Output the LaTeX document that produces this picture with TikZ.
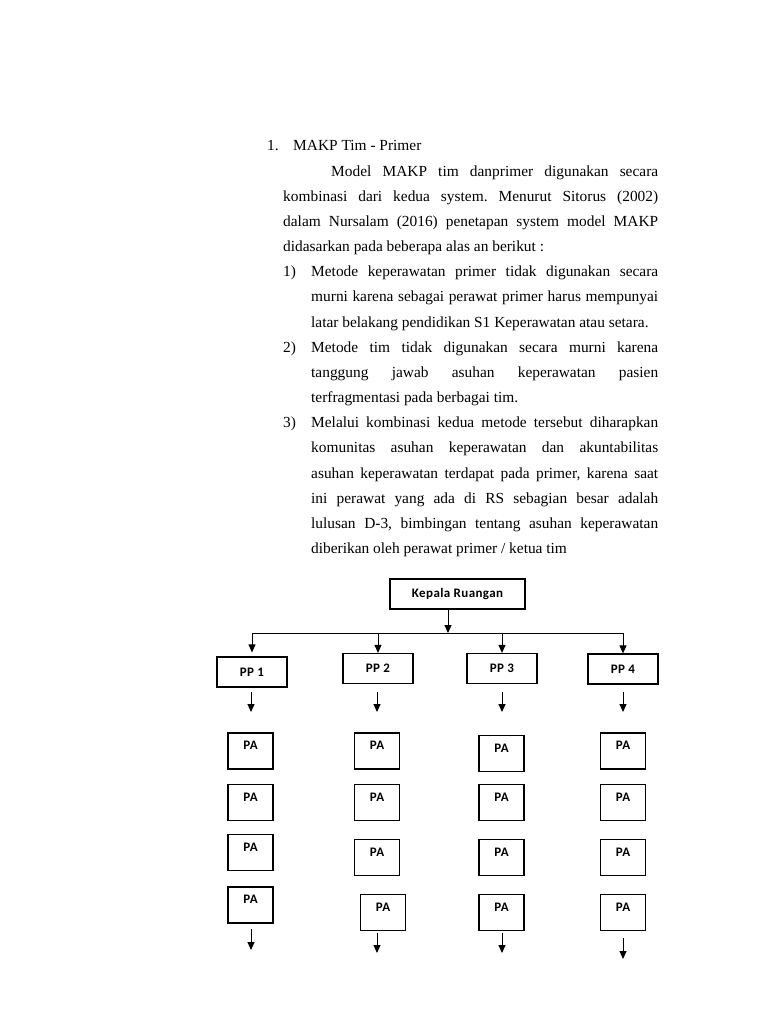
\documentclass[tikz,border=0pt]{standalone}
\usepackage{fontspec}
\setmainfont{Liberation Serif}
\newfontfamily\diagfont[LetterSpace=3]{Carlito}
\usetikzlibrary{arrows.meta}
\frenchspacing
\begin{document}
\begin{tikzpicture}[x=1pt,y=-1pt,
  txt/.style={anchor=base west, inner sep=0pt, font=\fontsize{15.4}{18}\selectfont},
  box/.style={draw=black, line width=1.2pt, inner sep=0pt, font=\diagfont\bfseries\fontsize{13}{15}\selectfont},
  ppbox/.style={box, minimum width=70pt, minimum height=30pt},
  pabox/.style={box, minimum width=45pt, minimum height=36pt},
  pal/.style={anchor=center, yshift=-13pt, inner sep=0pt, font=\diagfont\bfseries\fontsize{13}{15}\selectfont},
  arr/.style={line width=1pt, -{Triangle[width=7pt,length=8pt]}},
  ln/.style={line width=1pt}]
\fill[white] (0,0) rectangle (768,1024);
\useasboundingbox (0,0) rectangle (768,1024);

% ---------- text ----------
\node[txt] (n1) at (267,151) {1.};
\node[txt] (t0) at (293,151) {MAKP Tim - Primer};
\node[txt] (l1) at (331,176.2) {\makebox[327pt][s]{Model MAKP tim danprimer digunakan secara}};
\node[txt] (l2) at (283,201.3) {\makebox[375pt][s]{kombinasi dari kedua system. Menurut Sitorus (2002)}};
\node[txt] (l3) at (283,226.5) {\makebox[375pt][s]{dalam Nursalam (2016) penetapan system model MAKP}};
\node[txt] (l4) at (283,251.6) {didasarkan pada beberapa alas an berikut :};

\node[txt] (i1n) at (283,276.8) {1)};
\node[txt] (i1a) at (311,276.8) {\makebox[347pt][s]{Metode keperawatan primer tidak digunakan secara}};
\node[txt] (i1b) at (311,301.9) {\makebox[347pt][s]{murni karena sebagai perawat primer harus mempunyai}};
\node[txt] (i1c) at (311,327.1) {latar belakang pendidikan S1 Keperawatan atau setara.};

\node[txt] (i2n) at (283,352.2) {2)};
\node[txt] (i2a) at (311,352.2) {\makebox[347pt][s]{Metode tim tidak digunakan secara murni karena}};
\node[txt] (i2b) at (311,377.4) {\makebox[347pt][s]{tanggung jawab asuhan keperawatan pasien}};
\node[txt] (i2c) at (311,402.5) {terfragmentasi pada berbagai tim.};

\node[txt] (i3n) at (283,427.7) {3)};
\node[txt] (i3a) at (311,427.7) {\makebox[347pt][s]{Melalui kombinasi kedua metode tersebut diharapkan}};
\node[txt] (i3b) at (311,452.8) {\makebox[347pt][s]{komunitas asuhan keperawatan dan akuntabilitas}};
\node[txt] (i3c) at (311,478.0) {\makebox[347pt][s]{asuhan keperawatan terdapat pada primer, karena saat}};
\node[txt] (i3d) at (311,503.1) {\makebox[347pt][s]{ini perawat yang ada di RS sebagian besar adalah}};
\node[txt] (i3e) at (311,528.3) {\makebox[347pt][s]{lulusan D-3, bimbingan tentang asuhan keperawatan}};
\node[txt] (i3f) at (311,553.4) {diberikan oleh perawat primer / ketua tim};

% ---------- diagram ----------
\node[box, minimum width=135pt, minimum height=30pt] (kr) at (457.5,594) {Kepala Ruangan};

\node[ppbox] (pp1) at (252,672) {PP 1};
\node[ppbox] (pp2) at (378,668.5) {PP 2};
\node[ppbox] (pp3) at (502,668.5) {PP 3};
\node[ppbox] (pp4) at (623,669) {PP 4};

\coordinate (hub) at (448,633);
\coordinate (hl) at (252,633);
\coordinate (hr) at (623,633);
\draw[arr] (kr.south -| hub) -- (hub);
\draw[ln] (hl) -- (hr);
\draw[arr] (hl) -- ([yshift=4pt]pp1.north);
\draw[arr] (hl -| pp2) -- (pp2.north);
\draw[arr] (hl -| pp3) -- (pp3.north);
\draw[arr] (hr) -- (pp4.north);

% arrows below PP boxes
\coordinate (u1s) at (251,692); \coordinate (u1e) at (251,712);
\coordinate (u2s) at (377,692); \coordinate (u2e) at (377,712);
\coordinate (u3s) at (502,692); \coordinate (u3e) at (502,712);
\coordinate (u4s) at (623,692); \coordinate (u4e) at (623,712);
\draw[arr] (u1s) -- (u1e);
\draw[arr] (u2s) -- (u2e);
\draw[arr] (u3s) -- (u3e);
\draw[arr] (u4s) -- (u4e);

% PA boxes
\node[pabox, label={[pal]north:PA}] (pa11) at (250.5,751) {};
\node[pabox, label={[pal]north:PA}] (pa12) at (250.5,802.5) {};
\node[pabox, label={[pal]north:PA}] (pa13) at (250.5,852.5) {};
\node[pabox, label={[pal]north:PA}] (pa14) at (250.5,905) {};

\node[pabox, label={[pal]north:PA}] (pa21) at (377,751) {};
\node[pabox, label={[pal]north:PA}] (pa22) at (377,802.5) {};
\node[pabox, label={[pal]north:PA}] (pa23) at (377,857.5) {};
\node[pabox, label={[pal]north:PA}] (pa24) at (383,912.5) {};

\node[pabox, label={[pal]north:PA}] (pa31) at (501.5,753.5) {};
\node[pabox, label={[pal]north:PA}] (pa32) at (501.5,802.5) {};
\node[pabox, label={[pal]north:PA}] (pa33) at (501.5,857.5) {};
\node[pabox, label={[pal]north:PA}] (pa34) at (501.5,912.5) {};

\node[pabox, label={[pal]north:PA}] (pa41) at (623,751) {};
\node[pabox, label={[pal]north:PA}] (pa42) at (623,802.5) {};
\node[pabox, label={[pal]north:PA}] (pa43) at (623,857.5) {};
\node[pabox, label={[pal]north:PA}] (pa44) at (623,912.5) {};

% arrows at the bottom
\coordinate (b1s) at (251,929); \coordinate (b1e) at (251,950);
\coordinate (b2s) at (377,933); \coordinate (b2e) at (377,953);
\coordinate (b3s) at (502,933); \coordinate (b3e) at (502,953);
\coordinate (b4s) at (623,938); \coordinate (b4e) at (623,959);
\draw[arr] (b1s) -- (b1e);
\draw[arr] (b2s) -- (b2e);
\draw[arr] (b3s) -- (b3e);
\draw[arr] (b4s) -- (b4e);
\end{tikzpicture}
\end{document}
